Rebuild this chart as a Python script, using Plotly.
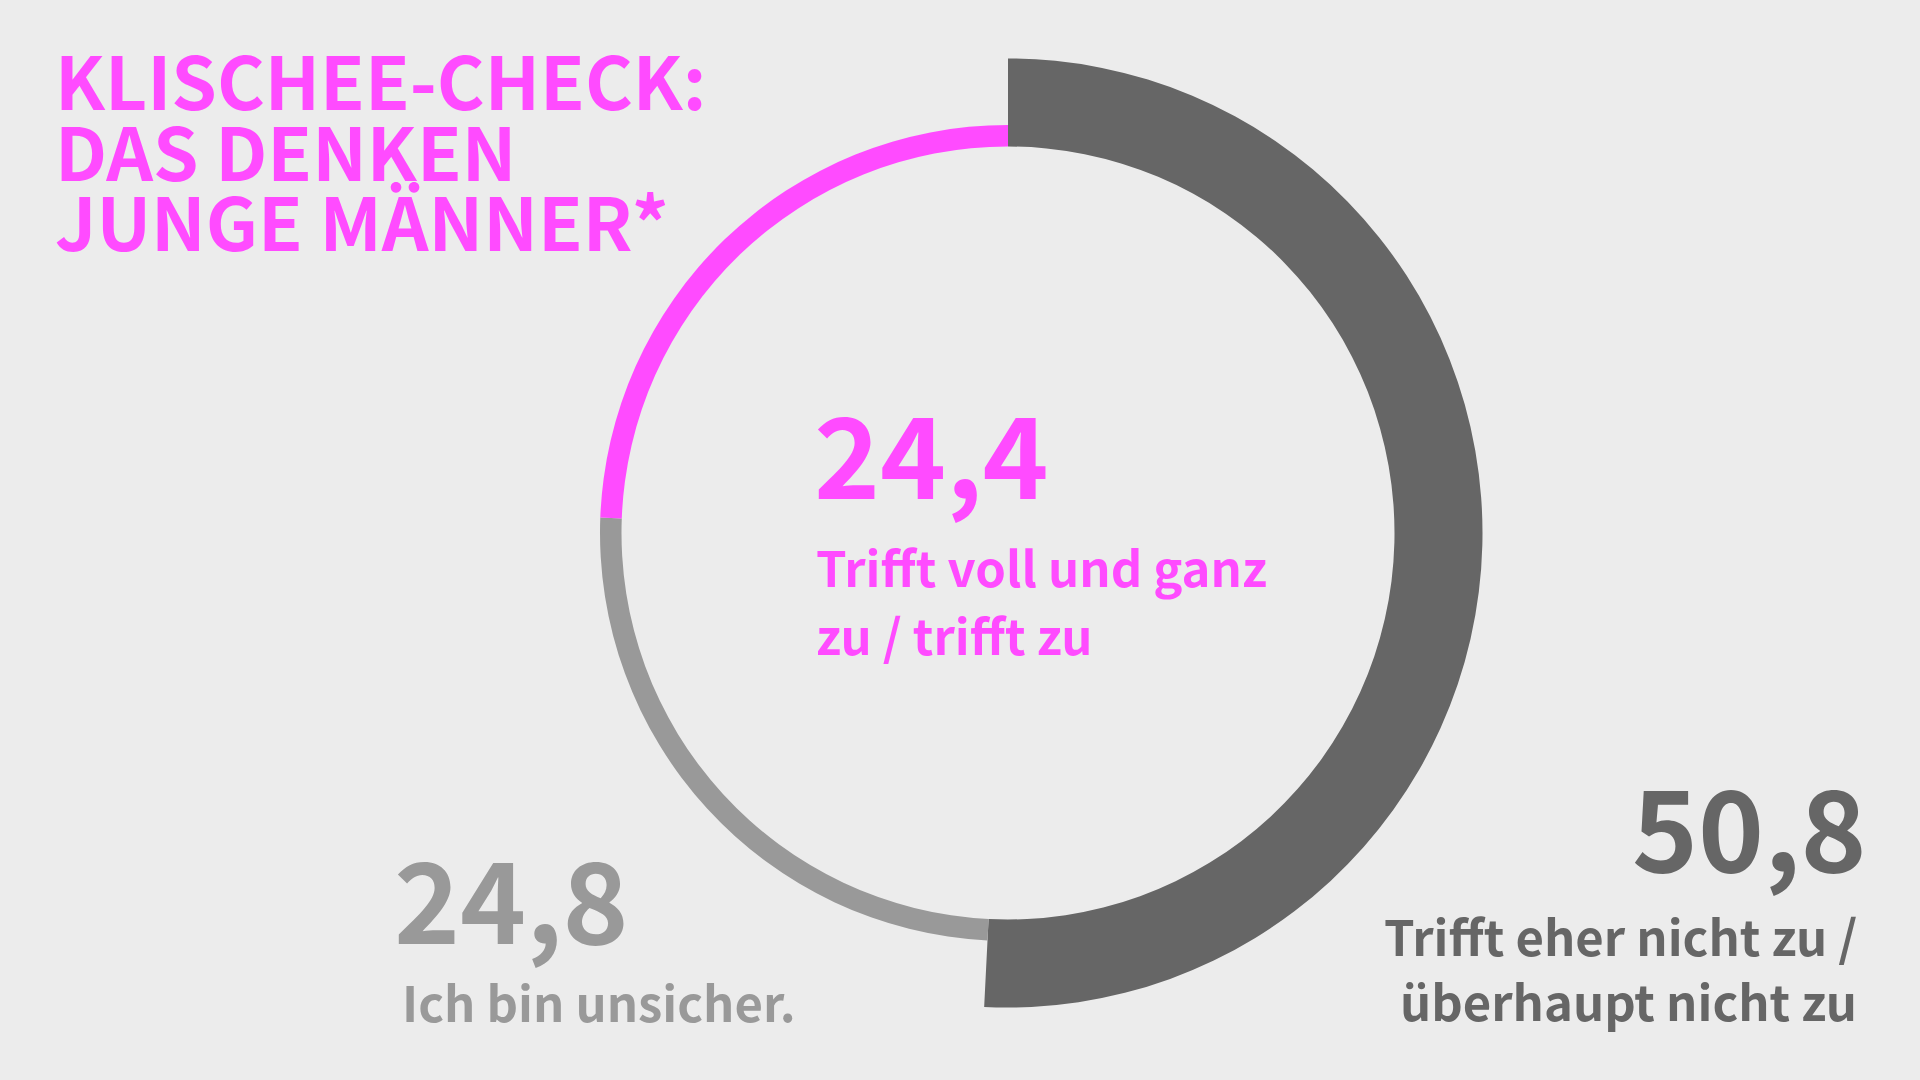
import plotly.graph_objects as go

# ── Daten ────────────────────────────────────────────────────────────────────
labels = [
    "Trifft eher nicht zu /<br>überhaupt nicht zu",
    "Ich bin unsicher.",
    "Trifft voll und ganz<br>zu / trifft zu",
]
values = [50.8, 24.8, 24.4]
title_lines = ["KLISCHEE-CHECK:", "DAS DENKEN", "JUNGE MÄNNER*"]

# ── Stil ─────────────────────────────────────────────────────────────────────
W, H = 1920, 1080
BG = "#ececec"
DARK = "#666666"
LIGHT = "#999999"
PINK = "#ff4bff"
FONT = "Noto Sans CJK SC"

CX, CY = 1008, 533          # Mittelpunkt in Pixeln (von oben links)
R_OUT, R_THIN, R_IN = 474.5, 408, 386.5


def domain(r):
    return dict(
        x=[(CX - r) / W, (CX + r) / W],
        y=[(H - CY - r) / H, (H - CY + r) / H],
    )


def fmt(v):
    return f"{v:.1f}".replace(".", ",")


fig = go.Figure()

# breiter dunkler Ring (nur erstes Segment sichtbar)
fig.add_trace(go.Pie(
    labels=labels, values=values,
    sort=False, direction="clockwise", rotation=0,
    hole=R_IN / R_OUT, domain=domain(R_OUT),
    marker=dict(colors=[DARK, "rgba(0,0,0,0)", "rgba(0,0,0,0)"], line=dict(width=0)),
    textinfo="none", hoverinfo="skip", showlegend=False,
))

# schmaler Ring für die beiden anderen Segmente
fig.add_trace(go.Pie(
    labels=labels, values=values,
    sort=False, direction="clockwise", rotation=0,
    hole=R_IN / R_THIN, domain=domain(R_THIN),
    marker=dict(colors=["rgba(0,0,0,0)", LIGHT, PINK], line=dict(width=0)),
    textinfo="none", hoverinfo="skip", showlegend=False,
))


def note(text, x, y, size, color, anchor="left"):
    fig.add_annotation(
        text=text, x=x / W, y=1 - y / H, xref="paper", yref="paper",
        xanchor=anchor, yanchor="middle", showarrow=False, align=anchor,
        font=dict(family=FONT, size=size, color=color, weight=700),
    )


# Titel
for line, y in zip(title_lines, [78, 149, 219.5]):
    note(line, 53, y, 73, PINK)

# Zahlen
note(fmt(values[2]), 812, 450, 112, PINK)
note(fmt(values[1]), 392, 895, 112, LIGHT)
note(fmt(values[0]), 1869, 823, 112, DARK, anchor="right")

# Beschriftungen
pink_lines = labels[2].split("<br>")
note(pink_lines[0], 814, 565, 49, PINK)
note(pink_lines[1], 814, 633, 49, PINK)
note(labels[1], 400, 1000, 49, LIGHT)
dark_lines = labels[0].split("<br>")
note(dark_lines[0], 1859, 934, 49, DARK, anchor="right")
note(dark_lines[1], 1859, 999, 49, DARK, anchor="right")

fig.update_layout(
    width=W, height=H,
    margin=dict(l=0, r=0, t=0, b=0),
    paper_bgcolor=BG, plot_bgcolor=BG,
    showlegend=False,
)

fig.write_html(
    "out.html",
    config={"displayModeBar": False},
    post_script="document.body.style.margin='0';document.body.style.overflow='hidden';"
                "document.body.style.background='" + BG + "';",
)
